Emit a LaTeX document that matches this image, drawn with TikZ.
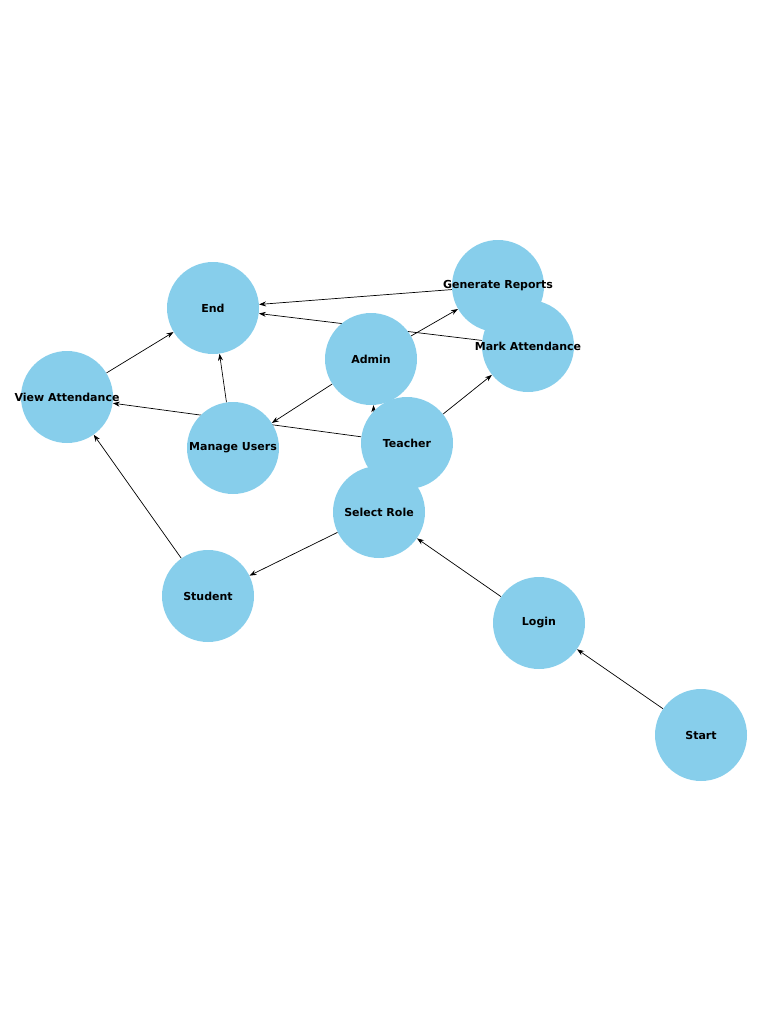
\documentclass[tikz,border=0pt]{standalone}
\usepackage{fontspec}
\setmainfont{DejaVu Sans}
\usetikzlibrary{backgrounds,arrows.meta}
\definecolor{sky}{RGB}{135,206,235}
\begin{document}
\begin{tikzpicture}[x=1pt,y=-1pt,
  nd/.style={circle,fill=sky,minimum size=92pt,inner sep=0pt},
  lb/.style={font=\bfseries\fontsize{11}{13}\selectfont},
  ed/.style={-{Stealth[length=7pt,width=5pt]},line width=0.7pt}]
\useasboundingbox (0,0) rectangle (768,1024);
\foreach \n/\x/\y/\t in {e/213/308/End, g/498/286/Generate Reports, m/528/346/Mark Attendance,
  a/371/359/Admin, v/67/397/View Attendance, t/407/443/Teacher, u/233/448/Manage Users,
  s/379/512/Select Role, st/208/596/Student, l/539/623/Login, sr/701/735/Start}
  {\node[nd] (\n) at (\x,\y) {};}
\begin{scope}[on background layer]
\draw[ed] (sr) -- (l);
\draw[ed] (l) -- (s);
\draw[ed] (s) -- (st);
\draw[ed] (s) -- (a);
\draw[ed] (s) -- (t);
\draw[ed] (t) -- (m);
\draw[ed] (t) -- (v);
\draw[ed] (st) -- (v);
\draw[ed] (a) -- (u);
\draw[ed] (a) -- (g);
\draw[ed] (u) -- (e);
\draw[ed] (g) -- (e);
\draw[ed] (m) -- (e);
\draw[ed] (v) -- (e);
\end{scope}
\foreach \n/\t in {e/End, g/Generate Reports, m/Mark Attendance, a/Admin, v/View Attendance,
  t/Teacher, u/Manage Users, s/Select Role, st/Student, l/Login, sr/Start}
  {\node[lb] at (\n) {\t};}
\end{tikzpicture}
\end{document}
